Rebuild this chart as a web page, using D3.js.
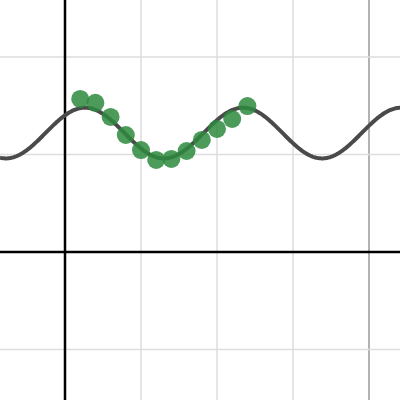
<!DOCTYPE html>
<html><head><meta charset="utf-8">
<script src="https://cdn.jsdelivr.net/npm/d3@7"></script>
<style>body{margin:0;background:#fff}svg{display:block}</style>
</head><body>
<script>
const pointX = [0.2,0.4,0.6,0.8,1.0,1.2,1.4,1.6,1.8,2.0,2.2,2.4];
const pointY = [1.57,1.53,1.385,1.2,1.046,0.944,0.954,1.036,1.149,1.262,1.364,1.497];
const gridX = [1,2,3,4];
const gridY = [-1,1,2];
// curve parameters: y = c + a*cos(2π(x - p)/T)
const curveC = 1.22, curveA = 0.26, curvePeak = 0.263, curvePeriod = 2.08;

const W=400,H=400;
const x = d3.scaleLinear().domain([-65/76, 335/76]).range([0,W]);
const y = d3.scaleLinear().domain([252/97.5, -148/97.5]).range([0,H]);
const svg = d3.select("body").append("svg").attr("width",W).attr("height",H);
svg.selectAll(".gx").data(gridX).join("line")
  .attr("x1",d=>x(d)).attr("x2",d=>x(d)).attr("y1",0).attr("y2",H)
  .attr("stroke",d=>d===4?"#999":"#ddd").attr("stroke-width",1.5);
svg.selectAll(".gy").data(gridY).join("line")
  .attr("y1",d=>y(d)).attr("y2",d=>y(d)).attr("x1",0).attr("x2",W)
  .attr("stroke","#ddd").attr("stroke-width",1.5);
svg.append("line").attr("x1",x(0)).attr("x2",x(0)).attr("y1",0).attr("y2",H).attr("stroke","#000").attr("stroke-width",2.5);
svg.append("line").attr("y1",y(0)).attr("y2",y(0)).attr("x1",0).attr("x2",W).attr("stroke","#000").attr("stroke-width",2.5);
const xs = d3.range(x.domain()[0], x.domain()[1]+0.01, 0.01);
svg.append("path").datum(xs)
  .attr("d", d3.line().x(d=>x(d)).y(d=>y(curveC+curveA*Math.cos(2*Math.PI*(d-curvePeak)/curvePeriod))))
  .attr("fill","none").attr("stroke","#4a4a4a").attr("stroke-width",4);
svg.selectAll("circle").data(pointX).join("circle")
  .attr("cx",d=>x(d)).attr("cy",(d,i)=>y(pointY[i])).attr("r",9)
  .attr("fill","#2d8a3e").attr("fill-opacity",0.85);
</script>
</body></html>
